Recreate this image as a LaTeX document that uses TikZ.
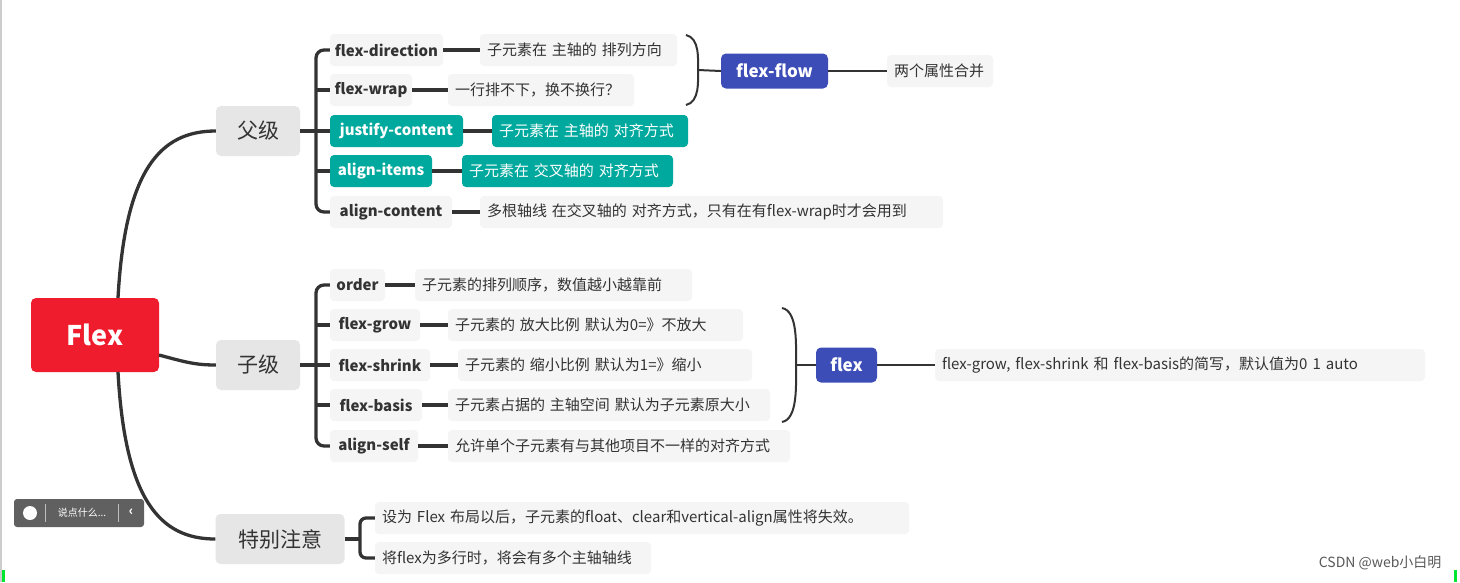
\documentclass[tikz,border=0pt]{standalone}
\usepackage{fontspec}
\setmainfont{Noto Sans CJK SC}
\definecolor{dk}{HTML}{333333}
\definecolor{lt}{HTML}{F5F5F5}
\definecolor{mid}{HTML}{E6E6E6}
\definecolor{teal}{HTML}{00A99D}
\definecolor{indg}{HTML}{3D4DB7}
\definecolor{redf}{HTML}{EE1C2C}
\tikzset{
 base/.style={rounded corners=4pt, inner ysep=0pt, minimum height=32pt, text=dk, font=\fontsize{15}{18}\selectfont},
 key/.style={base, inner xsep=0pt, fill=lt, font=\fontsize{15}{18}\selectfont\bfseries},
 desc/.style={base, fill=lt, inner xsep=7pt, text width=#1-14pt, align=left},
 tkey/.style={base, inner xsep=0pt, fill=teal, text=white, font=\fontsize{15}{18}\selectfont\bfseries},
 tdesc/.style={base, fill=teal, text=white, inner xsep=7pt, text width=#1-14pt, align=left},
 main/.style={rounded corners=5pt, fill=mid, text=dk, minimum height=50pt, inner sep=0pt, font=\fontsize{21}{24}\selectfont},
 blue/.style={rounded corners=5pt, fill=indg, text=white, minimum height=35pt, inner sep=0pt, font=\fontsize{17}{20}\selectfont\bfseries},
 ln/.style={draw=dk, line width=3.3pt},
 thin/.style={draw=dk, line width=2pt},
 br/.style={draw=dk, line width=2pt},
}
\begin{document}
\begin{tikzpicture}[x=1pt,y=-1pt]
\useasboundingbox[fill=white] (0,0) rectangle (1460,582);
\fill[gray!40] (0,0) rectangle (1.5,582);
\fill[green!70!teal] (2,570) rectangle (5,582);
\fill[green!70!teal] (1454,570) rectangle (1457,582);
% root
\node[rounded corners=5pt, fill=redf, text=white, minimum width=128pt, minimum height=74pt, font=\fontsize{27}{30}\selectfont\bfseries] (flex) at (95,335) {Flex};
\node[main, minimum width=84pt] (p) at (258,131) {父级};
\node[main, minimum width=84pt] (c) at (258,365) {子级};
\node[main, minimum width=129pt] (s) at (280,539) {特别注意};
\draw[ln] (118,298) .. controls (125,170) and (160,131) .. (p.west);
\draw[ln] (159,355) .. controls (185,362) and (195,365) .. (c.west);
\draw[ln] (118,372) .. controls (125,500) and (160,539) .. (s.west);
% parent children
\node[key, minimum width=113pt] (fd) at (386.5,50) {flex-direction};
\node[desc=197pt] (fdd) at (578.5,50) {子元素在 主轴的 排列方向};
\node[key, minimum width=82pt] (fw) at (371,90) {flex-wrap};
\node[desc=186pt] (fwd) at (541,90) {一行排不下，换不换行？};
\node[tkey, minimum width=133pt] (jc) at (396.5,131) {justify-content};
\node[tdesc=196pt] (jcd) at (590,131) {子元素在 主轴的 对齐方式};
\node[tkey, minimum width=102pt] (ai) at (381,171) {align-items};
\node[tdesc=211pt] (aid) at (567.5,171) {子元素在 交叉轴的 对齐方式};
\node[key, minimum width=122pt] (ac) at (391,212) {align-content};
\node[desc=463pt] (acd) at (711.5,212) {多根轴线 在交叉轴的 对齐方式，只有在有flex-wrap时才会用到};
\draw[ln] (p.east) -- (316,131);
\draw[ln, rounded corners=8pt] (fd.west) -- (316,50) -- (316,212) -- (ac.west);
\foreach \n in {fw,jc,ai} \draw[ln] (316,0|-\n.west) -- (\n.west);
\foreach \a/\b in {fd/fdd,fw/fwd,jc/jcd,ai/aid,ac/acd} \draw[ln] (\a.east) -- (\b.west);
\draw[br] (686,35) .. controls (700,38) and (698,60) .. (698,70) .. controls (698,80) and (700,102) .. (686,105);
\coordinate (b1) at (698,70);
\node[blue, minimum width=107pt] (ff) at (774.5,71) {flex-flow};
\draw[thin] (b1) -- (ff.west);
\node[desc=106pt] (ffd) at (940,71) {两个属性合并};
\draw[thin] (ff.east) -- (ffd.west);
% child children
\node[key, minimum width=55pt] (o) at (357.5,285) {order};
\node[desc=277pt] (od) at (553.5,285) {子元素的排列顺序，数值越小越靠前};
\node[key, minimum width=90pt] (fg) at (375,325) {flex-grow};
\node[desc=295pt] (fgd) at (595.5,325) {子元素的 放大比例 默认为0=》不放大};
\node[key, minimum width=100pt] (fs) at (380,365) {flex-shrink};
\node[desc=294pt] (fsd) at (605,365) {子元素的 缩小比例 默认为1=》缩小};
\node[key, minimum width=92pt] (fb) at (376,405) {flex-basis};
\node[desc=322pt] (fbd) at (609,405) {子元素占据的 主轴空间 默认为子元素原大小};
\node[key, minimum width=88pt] (as) at (374,446) {align-self};
\node[desc=342pt] (asd) at (619,446) {允许单个子元素有与其他项目不一样的对齐方式};
\draw[ln] (c.east) -- (316,365);
\draw[ln, rounded corners=8pt] (o.west) -- (316,285) -- (316,446) -- (as.west);
\foreach \n in {fg,fs,fb} \draw[ln] (316,0|-\n.west) -- (\n.west);
\foreach \a/\b in {o/od,fg/fgd,fs/fsd,fb/fbd,as/asd} \draw[ln] (\a.east) -- (\b.west);
\draw[br] (782,308) .. controls (798,311) and (796,345) .. (796,365) .. controls (796,385) and (798,419) .. (782,422);
\coordinate (b2) at (796,365);
\node[blue, minimum width=61pt] (fx) at (846.5,365) {flex};
\draw[thin] (b2) -- (fx.west);
\node[desc=490pt] (fxd) at (1180,365) {flex-grow, flex-shrink 和 flex-basis的简写，默认值为0 1 auto};
\draw[thin] (fx.east) -- (fxd.west);
% notes
\node[desc=534pt] (n1) at (642,518) {设为 Flex 布局以后，子元素的float、clear和vertical-align属性将失效。};
\node[desc=276pt] (n2) at (513,558) {将flex为多行时，将会有多个主轴轴线};
\draw[ln] (s.east) -- (360,539);
\draw[ln, rounded corners=6pt] (n1.west) -- (360,518) -- (360,558) -- (n2.west);
% widget
\node[rounded corners=3pt, fill=gray!75!black, minimum width=130pt, minimum height=28pt, inner sep=0pt] (w) at (79,513) {};
\node[text=white, font=\fontsize{10}{12}\selectfont] (wt) at (82,513) {说点什么...};
\node[circle, fill=white, minimum size=14pt, inner sep=0pt] (we) at (30,513) {};
\draw[gray!50, line width=0.8pt] (45,504) -- (45,522);
\draw[gray!50, line width=0.8pt] (118,504) -- (118,522);
\node[text=white, font=\fontsize{13}{14}\selectfont\bfseries] (wa) at (131,512) {‹};
\node[text=gray!70!black, font=\fontsize{14}{16}\selectfont, anchor=east] (cs) at (1445,563) {CSDN @web小白明};
\end{tikzpicture}
\end{document}
